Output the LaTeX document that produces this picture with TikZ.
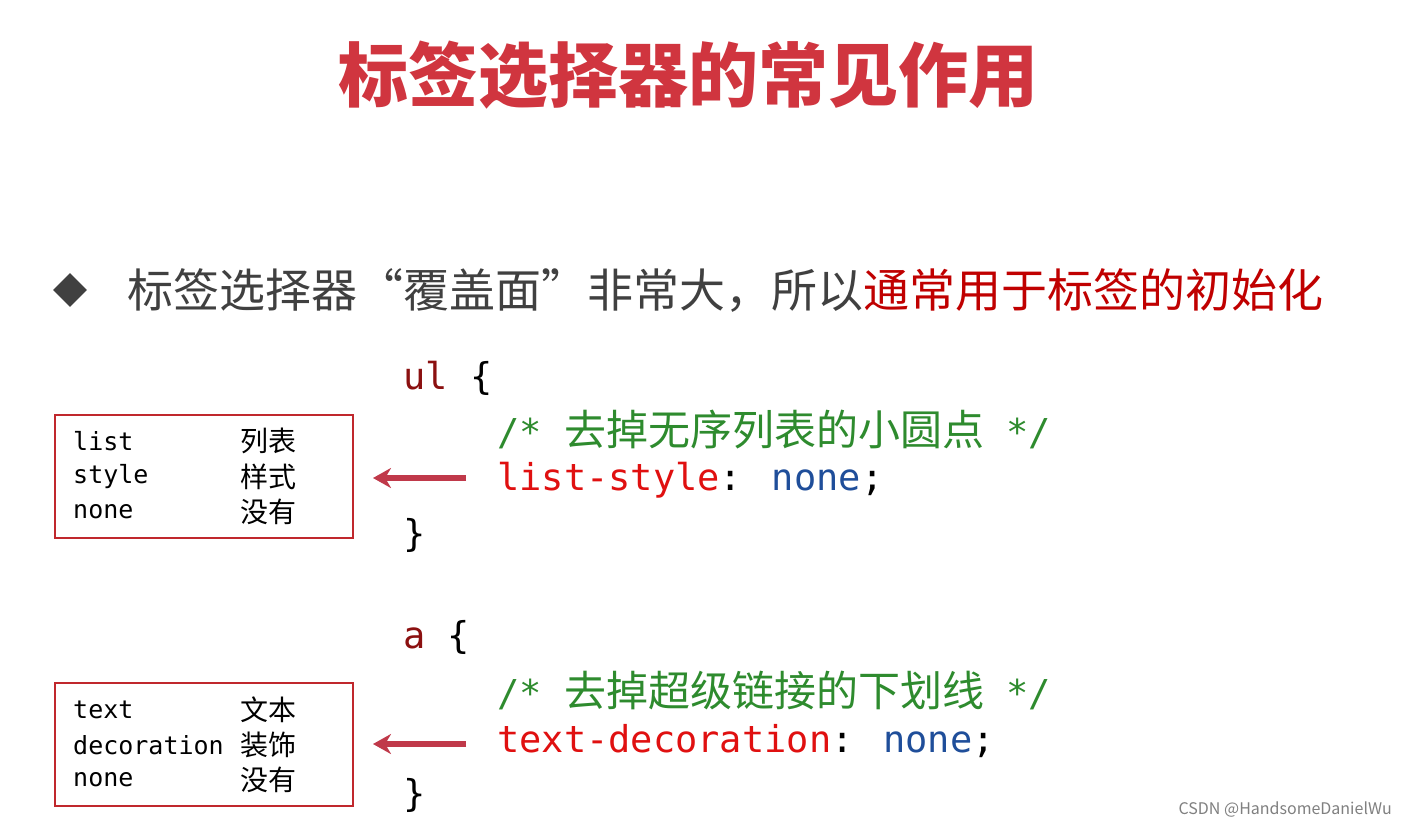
\documentclass[tikz,border=0pt]{standalone}
\usepackage{fontspec}
\setmainfont{Noto Sans CJK SC}
\newfontfamily\cjkb{Noto Sans CJK SC Black}
\newfontfamily\mono{DejaVu Sans Mono}
\newfontfamily\cjk{Noto Sans CJK SC}
\usetikzlibrary{arrows.meta}
\definecolor{ttl}{HTML}{D0353F}
\definecolor{drk}{HTML}{C00000}
\definecolor{gr}{HTML}{404040}
\definecolor{grn}{HTML}{2E8B2E}
\definecolor{kw}{HTML}{E01010}
\definecolor{bl}{HTML}{1F4E9A}
\definecolor{sel}{HTML}{8B1010}
\definecolor{bx}{HTML}{C0282D}
\definecolor{ar}{HTML}{C0394A}
\tikzset{
 code/.style={anchor=west,inner sep=0,font=\fontsize{37}{40}\mono},
 bxt/.style={anchor=west,inner sep=0,font=\fontsize{25}{28}\mono},
 bxc/.style={anchor=west,inner sep=0,font=\fontsize{28}{30}\cjk},
 frame/.style={draw=bx,line width=2pt},
 pt/.style={draw=ar,line width=6pt,-{Stealth[length=18pt,width=20pt]}}
}
\newcommand\cm[1]{{\fontsize{42}{44}\cjk #1}}
\begin{document}
\begin{tikzpicture}[x=1pt,y=-1pt]
\useasboundingbox[fill=white] (0,0) rectangle (1403,828);
\node[inner sep=0,text=ttl,font=\fontsize{70}{74}\cjkb] (t) at (688,75) {标签选择器的常见作用};
\node[fill=gr,inner sep=0,rotate=45,minimum width=24pt,minimum height=24pt] (d) at (70,290) {};
\node[anchor=west,inner sep=0,text=gr,font=\fontsize{46}{48}\cjk] (b) at (127,290) {标签选择器“覆盖面”非常大，所以\textcolor{drk}{通常用于标签的初始化}};
\node[code,text=sel] (c1) at (403,378) {ul \textcolor{black}{\{}};
\node[code,text=grn] (c2) at (497,430) {/* \cm{去掉无序列表的小圆点} */};
\node[code,text=kw] (c3) at (497,480) {list-style\textcolor{black}{: }\textcolor{bl}{none}\textcolor{black}{;}};
\node[code] (c4) at (403,535) {\}};
\node[code,text=sel] (c5) at (403,637) {a \textcolor{black}{\{}};
\node[code,text=grn] (c6) at (497,690) {/* \cm{去掉超级链接的下划线} */};
\node[code,text=kw] (c7) at (497,741) {text-decoration\textcolor{black}{: }\textcolor{bl}{none}\textcolor{black}{;}};
\node[code] (c8) at (403,795) {\}};
\draw[frame] (55,415) rectangle (353,538);
\draw[frame] (55,683) rectangle (353,806);
\node[bxt] (l1) at (73,441) {list};
\node[bxt] (l2) at (73,477) {style};
\node[bxt] (l3) at (73,512) {none};
\node[bxc] (k1) at (240,441) {列表};
\node[bxc] (k2) at (240,477) {样式};
\node[bxc] (k3) at (240,512) {没有};
\node[bxt] (m1) at (73,710) {text};
\node[bxt] (m2) at (73,745) {decoration};
\node[bxt] (m3) at (73,780) {none};
\node[bxc] (n1) at (240,710) {文本};
\node[bxc] (n2) at (240,745) {装饰};
\node[bxc] (n3) at (240,780) {没有};
\coordinate (a1s) at (466,478); \coordinate (a1e) at (373,478);
\coordinate (a2s) at (466,744); \coordinate (a2e) at (373,744);
\draw[pt] (a1s) -- (a1e);
\draw[pt] (a2s) -- (a2e);
\node[anchor=east,inner sep=0,text=gray,font=\fontsize{16}{18}\selectfont] (w) at (1392,810) {CSDN @HandsomeDanielWu};
\end{tikzpicture}
\end{document}
